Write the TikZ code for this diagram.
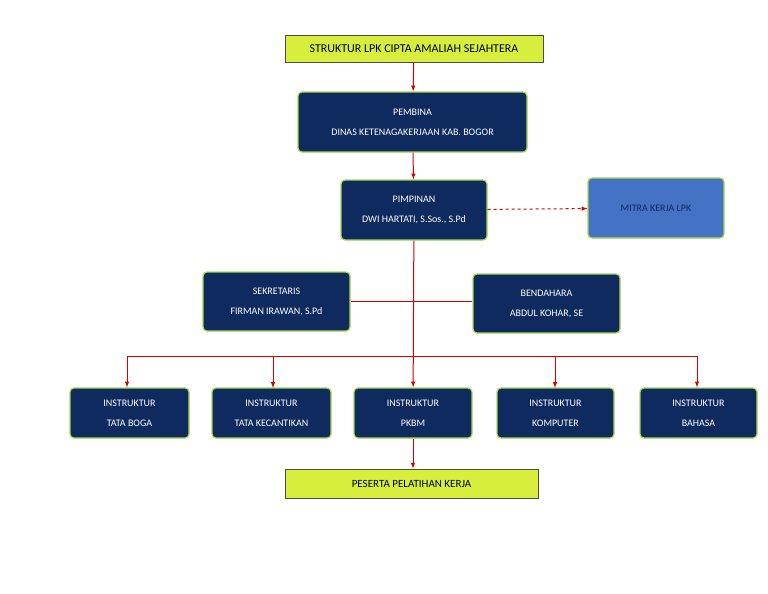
\documentclass[tikz,border=0pt]{standalone}
\usepackage{fontspec}
\setmainfont{Carlito}
\usetikzlibrary{positioning}
\definecolor{navy}{HTML}{0E2A5E}
\definecolor{lime}{HTML}{D7EE3C}
\definecolor{rim}{HTML}{A6D94A}
\definecolor{mitra}{HTML}{4472C4}
\tikzset{
  unit/.style={draw=rim,line width=1.2pt,fill=navy,text=white,rounded corners=4pt,
    align=center,font=\fontsize{10}{20}\selectfont,inner sep=0pt},
  banner/.style={draw=black!70,line width=0.8pt,fill=lime,align=center,inner sep=0pt},
  link/.style={red!85!black,line width=1pt},
  tip/.style={link,-latex}
}
\begin{document}
\begin{tikzpicture}[x=1pt,y=-1pt]
\useasboundingbox (0,0) rectangle (768,594);
% top
\node[banner,minimum width=258pt,minimum height=27pt,font=\fontsize{12}{14}\selectfont] (judul) at (414,48.5) {STRUKTUR LPK CIPTA AMALIAH SEJAHTERA};
\node[unit,minimum width=229pt,minimum height=60pt] (pembina) at (412.5,122) {PEMBINA\\DINAS KETENAGAKERJAAN KAB. BOGOR};
\node[unit,minimum width=146pt,minimum height=60pt] (pimpinan) at (414,210) {PIMPINAN\\DWI HARTATI, S.Sos., S.Pd};
\node[unit,fill=mitra,text=navy,minimum width=136pt,minimum height=60pt] (mitra) at (656,208) {MITRA KERJA LPK};
% staff
\node[unit,minimum width=147pt,minimum height=59pt] (sekretaris) at (276.5,301.5) {SEKRETARIS\\FIRMAN IRAWAN, S.Pd};
\node[unit,minimum width=147pt,minimum height=59pt] (bendahara) at (546.5,303.5) {BENDAHARA\\ABDUL KOHAR, SE};
% instruktur
\node[unit,minimum width=119pt,minimum height=50pt] (boga) at (129.5,413) {INSTRUKTUR\\TATA BOGA};
\node[unit,minimum width=119pt,minimum height=50pt] (cantik) at (271.5,413) {INSTRUKTUR\\TATA KECANTIKAN};
\node[unit,minimum width=118pt,minimum height=50pt] (pkbm) at (413,413) {INSTRUKTUR\\PKBM};
\node[unit,minimum width=117pt,minimum height=50pt] (komputer) at (555.5,413) {INSTRUKTUR\\KOMPUTER};
\node[unit,minimum width=117pt,minimum height=50pt] (bahasa) at (698.5,413) {INSTRUKTUR\\BAHASA};
\node[banner,minimum width=253pt,minimum height=29pt,font=\fontsize{11}{13}\selectfont] (peserta) at (411.5,483.5) {PESERTA PELATIHAN KERJA};
% connectors
\coordinate (kiri) at (127,356);
\coordinate (kanan) at (697,356);
\draw[tip] (judul) -- (pembina);
\draw[tip] (pembina) -- (pimpinan);
\draw[tip,dashed] (pimpinan) -- (mitra);
\draw[tip] (pimpinan) -- (pkbm);
\draw[link] (sekretaris.east) -- (bendahara.west |- sekretaris.east);
\draw[link] (kiri) -- (kanan);
\draw[tip] (kiri) -- (kiri |- boga.north);
\draw[tip] (273,356) -- (273,388);
\draw[tip] (555,356) -- (555,388);
\draw[tip] (kanan) -- (kanan |- bahasa.north);
\draw[tip] (pkbm) -- (pkbm |- peserta.north);
\end{tikzpicture}
\end{document}
